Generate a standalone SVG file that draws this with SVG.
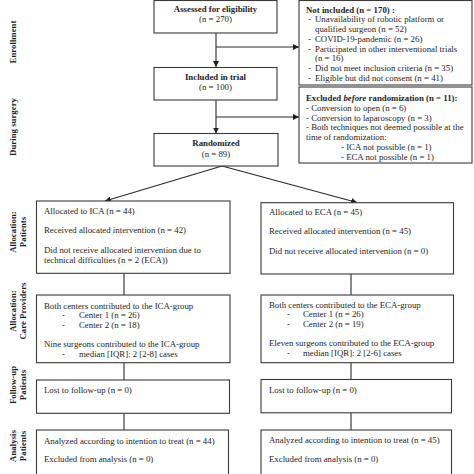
<svg xmlns="http://www.w3.org/2000/svg" width="474" height="474" viewBox="0 0 474 474">
<style>
.bg{fill:#ffffff}
.box{fill:#ffffff;stroke:#3a3a3a;stroke-width:1.1}
.t{font-family:"Liberation Serif","Times New Roman",serif;font-size:8.8px;fill:#1e1e1e}
.b{font-weight:bold}
.c{text-anchor:middle}
.lbl{font-family:"Liberation Serif","Times New Roman",serif;font-size:8.8px;font-weight:bold;fill:#1e1e1e;text-anchor:middle}
.ln{fill:none;stroke:#2a2a2a;stroke-width:1.1}
</style>
<defs>
<marker id="ah" viewBox="0 0 10 10" refX="10" refY="5" markerWidth="6" markerHeight="6" markerUnits="userSpaceOnUse" orient="auto">
<path d="M0,0 L10,5 L0,10 z" fill="#1e1e1e"/>
</marker>
</defs>
<rect class="bg" x="0" y="0" width="474" height="474"/>

<g id="labels">
<g transform="translate(13,42) rotate(-90)"><text class="lbl" x="0" y="3">Enrollment</text></g>
<g transform="translate(13,127) rotate(-90)"><text class="lbl" x="0" y="3">During surgery</text></g>
<g transform="translate(13,232) rotate(-90)"><text class="lbl" x="0" y="3">Allocation:</text></g>
<g transform="translate(23,232) rotate(-90)"><text class="lbl" x="0" y="3">Patients</text></g>
<g transform="translate(13,311) rotate(-90)"><text class="lbl" x="0" y="3">Allocation:</text></g>
<g transform="translate(23,311) rotate(-90)"><text class="lbl" x="0" y="3">Care Providers</text></g>
<g transform="translate(13,385) rotate(-90)"><text class="lbl" x="0" y="3">Follow-up</text></g>
<g transform="translate(23,385) rotate(-90)"><text class="lbl" x="0" y="3">Patients</text></g>
<g transform="translate(13,446) rotate(-90)"><text class="lbl" x="0" y="3">Analysis</text></g>
<g transform="translate(23,446) rotate(-90)"><text class="lbl" x="0" y="3">Patients</text></g>
</g>

<g id="connectors">
<line class="ln" x1="216" y1="33" x2="216" y2="67" marker-end="url(#ah)"/>
<line class="ln" x1="216" y1="47" x2="299" y2="47" marker-end="url(#ah)"/>
<line class="ln" x1="216" y1="100" x2="216" y2="133.5" marker-end="url(#ah)"/>
<line class="ln" x1="216" y1="117" x2="299" y2="117" marker-end="url(#ah)"/>
<line class="ln" x1="222" y1="166" x2="105" y2="201" marker-end="url(#ah)"/>
<line class="ln" x1="222" y1="166" x2="357" y2="202.5" marker-end="url(#ah)"/>
<line class="ln" x1="124" y1="273" x2="124" y2="295"/>
<line class="ln" x1="351" y1="274" x2="351" y2="295"/>
<line class="ln" x1="124" y1="363" x2="124" y2="380"/>
<line class="ln" x1="351" y1="363" x2="351" y2="379.5"/>
<line class="ln" x1="124" y1="413" x2="124" y2="430"/>
<line class="ln" x1="351" y1="413" x2="351" y2="430"/>
</g>

<g id="assessed">
<rect class="box" x="154" y="0.5" width="123" height="32.5"/>
<text class="t b c" x="215.5" y="12.3">Assessed for eligibility</text>
<text class="t c" x="215.5" y="22.3">(n = 270)</text>
</g>

<g id="not-included">
<rect class="box" x="299" y="0.5" width="173" height="84.5"/>
<text class="t b" x="306" y="12.5">Not included (n = 170) :</text>
<text class="t" x="308" y="22.3">-</text><text class="t" x="315" y="22.3">Unavailability of robotic platform or</text>
<text class="t" x="315" y="32">qualified surgeon (n = 52)</text>
<text class="t" x="308" y="42">-</text><text class="t" x="315" y="42">COVID-19-pandemic (n = 26)</text>
<text class="t" x="308" y="51.5">-</text><text class="t" x="315" y="51.5">Participated in other interventional trials</text>
<text class="t" x="315" y="61.3">(n = 16)</text>
<text class="t" x="308" y="71">-</text><text class="t" x="315" y="71">Did not meet inclusion criteria (n = 35)</text>
<text class="t" x="308" y="80.8">-</text><text class="t" x="315" y="80.8">Eligible but did not consent (n = 41)</text>
</g>

<g id="included">
<rect class="box" x="154" y="67.5" width="123" height="32.5"/>
<text class="t b c" x="215.5" y="79.7">Included in trial</text>
<text class="t c" x="215.5" y="89.7">(n = 100)</text>
</g>

<g id="excluded">
<rect class="box" x="299" y="87" width="173" height="76"/>
<text class="t b" x="306" y="100.5">Excluded <tspan font-style="italic">before</tspan> randomization (n = 11):</text>
<text class="t" x="306" y="110.5">- Conversion to open (n = 6)</text>
<text class="t" x="306" y="120.5">- Conversion to laparoscopy (n = 3)</text>
<text class="t" x="306" y="130">- Both techniques not deemed possible at the</text>
<text class="t" x="306" y="139.5">time of randomization:</text>
<text class="t" x="341" y="150">- ICA not possible (n = 1)</text>
<text class="t" x="341" y="159.5">- ECA not possible (n = 1)</text>
</g>

<g id="randomized">
<rect class="box" x="154" y="133.5" width="124" height="32.5"/>
<text class="t b c" x="216" y="146">Randomized</text>
<text class="t c" x="216" y="157">(n = 89)</text>
</g>

<g id="alloc-ica">
<rect class="box" x="36.5" y="201" width="193.5" height="72.3"/>
<text class="t" x="44" y="214">Allocated to ICA (n = 44)</text>
<text class="t" x="44" y="233">Received allocated intervention (n = 42)</text>
<text class="t" x="44" y="253">Did not receive allocated intervention due to</text>
<text class="t" x="44" y="263">technical difficulties (n = 2 (ECA))</text>
</g>

<g id="alloc-eca">
<rect class="box" x="261" y="202.7" width="192.5" height="71.3"/>
<text class="t" x="269" y="215">Allocated to ECA (n = 45)</text>
<text class="t" x="269" y="234">Received allocated intervention (n = 45)</text>
<text class="t" x="269" y="254">Did not receive allocated intervention (n = 0)</text>
</g>

<g id="care-ica">
<rect class="box" x="36.5" y="295" width="193.5" height="67.7"/>
<text class="t" x="44" y="308.7">Both centers contributed to the ICA-group</text>
<text class="t" x="62" y="318.3">-</text><text class="t" x="79" y="318.3">Center 1 (n = 26)</text>
<text class="t" x="62" y="327.7">-</text><text class="t" x="79" y="327.7">Center 2 (n = 18)</text>
<text class="t" x="44" y="347">Nine surgeons contributed to the ICA-group</text>
<text class="t" x="62" y="356.5">-</text><text class="t" x="79" y="356.5">median [IQR]: 2 [2-8] cases</text>
</g>

<g id="care-eca">
<rect class="box" x="261" y="295" width="192.5" height="67.7"/>
<text class="t" x="269" y="308">Both centers contributed to the ECA-group</text>
<text class="t" x="287" y="317.3">-</text><text class="t" x="303" y="317.3">Center 1 (n = 26)</text>
<text class="t" x="287" y="326.5">-</text><text class="t" x="303" y="326.5">Center 2 (n = 19)</text>
<text class="t" x="269" y="346.3">Eleven surgeons contributed to the ECA-group</text>
<text class="t" x="287" y="356.3">-</text><text class="t" x="303" y="356.3">median [IQR]: 2 [2-6] cases</text>
</g>

<g id="followup-ica">
<rect class="box" x="36.5" y="380" width="193" height="33.3"/>
<text class="t" x="44" y="393">Lost to follow-up (n = 0)</text>
</g>

<g id="followup-eca">
<rect class="box" x="261" y="379.5" width="190.5" height="33.3"/>
<text class="t" x="269" y="393">Lost to follow-up (n = 0)</text>
</g>

<g id="analysis-ica">
<rect class="box" x="36.5" y="430" width="192" height="50"/>
<text class="t" x="44" y="443.7">Analyzed according to intention to treat (n = 44)</text>
<text class="t" x="44" y="462.3">Excluded from analysis (n = 0)</text>
</g>

<g id="analysis-eca">
<rect class="box" x="261" y="430" width="190.5" height="50"/>
<text class="t" x="269" y="443">Analyzed according to intention to treat (n = 45)</text>
<text class="t" x="269" y="462.3">Excluded from analysis (n = 0)</text>
</g>
</svg>
